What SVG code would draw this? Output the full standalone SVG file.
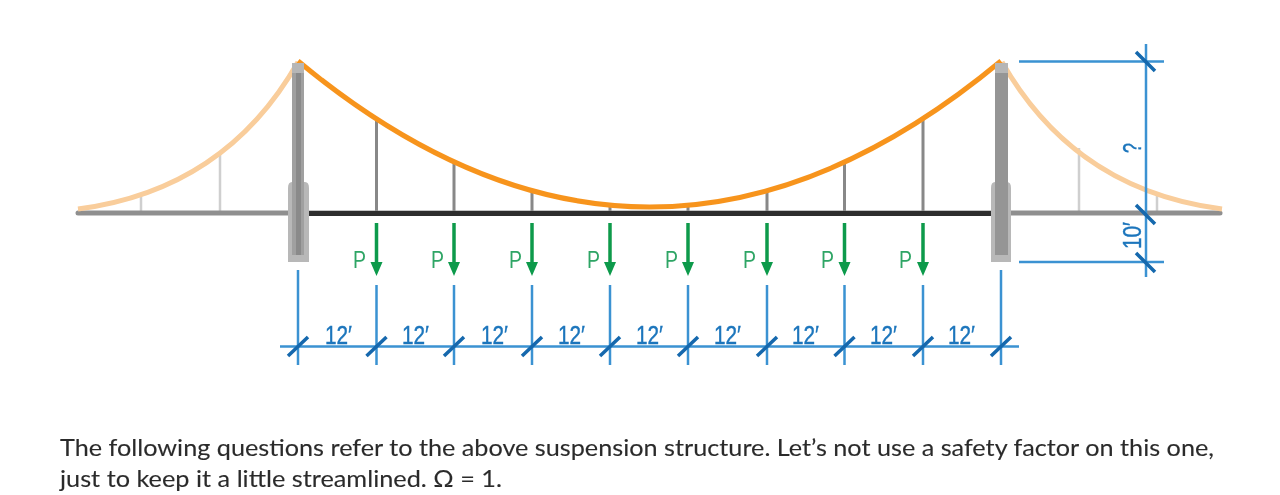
<svg xmlns="http://www.w3.org/2000/svg" width="1280" height="495" viewBox="0 0 1280 495">
<defs>
<filter id="soft" x="-5%" y="-5%" width="110%" height="110%"><feGaussianBlur stdDeviation="0.75"/></filter>
</defs>
<style>
.bg{fill:#fff}
.stay{fill:none;stroke:#f9cd9b;stroke-width:5}
.main{fill:none;stroke:#f7941e;stroke-width:5}
.hanger{stroke:#888;stroke-width:3}
.hl{stroke:#cfcfcf;stroke-width:2.500}
.deck{stroke:#8f8f8f;stroke-width:5;stroke-linecap:round}
.deckd{stroke:#2e2e2e;stroke-width:5}
.base{fill:#b8b8b8}
.shaft{fill:#a0a0a0}
.core{fill:#8a8a8a}
.core-r{fill:#959595}
.cap{fill:#b6b6b6}
.load{stroke:#0b9a4b;stroke-width:3.500}
.head{fill:#0b9a4b}
.pl{font:23px "Liberation Sans",Arial,sans-serif;fill:#2ea565}
.dim{stroke:#3a92d2;stroke-width:2.500;fill:none}
.tick{stroke:#1467ad;stroke-width:3.500;fill:none}
.dl{font:25px "Liberation Sans",Arial,sans-serif;fill:#1b75bc;stroke:#1b75bc;stroke-width:.4}
.cap-text{font:22.500px Lato,"Liberation Sans",sans-serif;fill:#2c2c2c;stroke:#2c2c2c;stroke-width:.12}
</style>
<rect class="bg" width="1280" height="495"/>
<g filter="url(#soft)">
<g id="connectors">
<path class="hl" d="M141 194V211M220 154V211M1079 148V211M1157 193V211"/>
<path class="hanger" d="M376.500 119V212M454 162V212M532 192V212M610 206V212M688 206V212M767 189V212M844.500 161V212M923 118V212"/>
<path class="deck" d="M78 213H1220"/>
<path class="deckd" d="M305 213.500H992"/>
<path class="stay" d="M78 209Q225 190 298 62"/>
<path class="stay" d="M1222 209Q1075 190 1002 62"/>
<path class="main" d="M298 61Q649.500 353 1001 61"/>
</g>
<g id="tower-left">
<path class="base" d="M288 262V188Q288 182 292 182H305Q309 182 309 188V262Z"/>
<rect class="shaft" x="292" y="63" width="12" height="192"/>
<rect class="core" x="296" y="73" width="5" height="182"/>
<rect class="cap" x="292" y="63" width="12" height="10"/>
</g>
<g id="tower-right">
<path class="base" d="M991 262V188Q991 182 995 182H1007Q1011 182 1011 188V262Z"/>
<rect class="core-r" x="995" y="63" width="13" height="192"/>
<rect class="cap" x="995" y="63" width="13" height="10"/>
</g>
<g id="loads">
<path class="load" d="M376.500 223V264M454 223V264M532 223V264M610 223V264M688 223V264M767 223V264M844.500 223V264M923 223V264"/>
<path class="head" d="M370.500 262H382.500L376.500 276ZM448 262H460L454 276ZM526 262H538L532 276ZM604 262H616L610 276ZM682 262H694L688 276ZM761 262H773L767 276ZM838.500 262H850.500L844.500 276ZM917 262H929L923 276Z"/>
<text class="pl" x="353" y="268" textLength="13" lengthAdjust="spacingAndGlyphs">P</text><text class="pl" x="431" y="268" textLength="13" lengthAdjust="spacingAndGlyphs">P</text><text class="pl" x="509" y="268" textLength="13" lengthAdjust="spacingAndGlyphs">P</text><text class="pl" x="587" y="268" textLength="13" lengthAdjust="spacingAndGlyphs">P</text><text class="pl" x="665" y="268" textLength="13" lengthAdjust="spacingAndGlyphs">P</text><text class="pl" x="743" y="268" textLength="13" lengthAdjust="spacingAndGlyphs">P</text><text class="pl" x="821" y="268" textLength="13" lengthAdjust="spacingAndGlyphs">P</text><text class="pl" x="899" y="268" textLength="13" lengthAdjust="spacingAndGlyphs">P</text>
</g>
<g id="dimensions">
<path class="dim" d="M280 346.500H1019"/>
<path class="dim" d="M298 270V365M376.500 285V365M454 285V365M532 285V365M610 285V365M688 285V365M767 285V365M844.500 285V365M923 285V365M1001 270V365"/>
<path class="dim" d="M1146 44V277M1019 61.500H1164M1019 262H1164"/>
<path class="tick" d="M288 356L308 337M366.500 356L386.500 337M444 356L464 337M522 356L542 337M600 356L620 337M678 356L698 337M757 356L777 337M834.500 356L854.500 337M913 356L933 337M991 356L1011 337"/>
<path class="tick" d="M1136 52L1155 71M1136 205L1155 224M1136 253L1155 272"/>
<text class="dl" x="325" y="344" textLength="27" lengthAdjust="spacingAndGlyphs">12′</text><text class="dl" x="402" y="344" textLength="27" lengthAdjust="spacingAndGlyphs">12′</text><text class="dl" x="481" y="344" textLength="27" lengthAdjust="spacingAndGlyphs">12′</text><text class="dl" x="558" y="344" textLength="27" lengthAdjust="spacingAndGlyphs">12′</text><text class="dl" x="636" y="344" textLength="27" lengthAdjust="spacingAndGlyphs">12′</text><text class="dl" x="714" y="344" textLength="27" lengthAdjust="spacingAndGlyphs">12′</text><text class="dl" x="792" y="344" textLength="27" lengthAdjust="spacingAndGlyphs">12′</text><text class="dl" x="870" y="344" textLength="27" lengthAdjust="spacingAndGlyphs">12′</text><text class="dl" x="948" y="344" textLength="27" lengthAdjust="spacingAndGlyphs">12′</text>
<text class="dl" transform="translate(1141 153) rotate(-90)" textLength="10" lengthAdjust="spacingAndGlyphs">?</text>
<text class="dl" transform="translate(1141 249) rotate(-90)" textLength="27" lengthAdjust="spacingAndGlyphs">10′</text>
</g>
<g id="caption">
<text class="cap-text" x="60" y="456" textLength="1154" lengthAdjust="spacingAndGlyphs">The following questions refer to the above suspension structure. Let’s not use a safety factor on this one,</text>
<text class="cap-text" x="60" y="487" textLength="442" lengthAdjust="spacingAndGlyphs">just to keep it a little streamlined. Ω = 1.</text>
</g>
</g>
</svg>
